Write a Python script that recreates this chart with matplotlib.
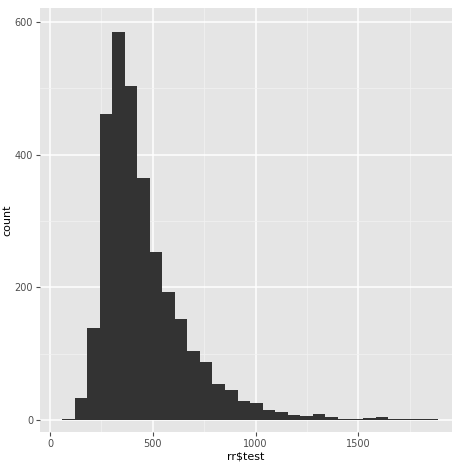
import matplotlib
matplotlib.use('Agg')
import matplotlib.pyplot as plt
import numpy as np

# histogram of rr$test, 30 bins
bin_left = 58
bin_width = 61
counts = [1, 33, 138, 462, 585, 503, 365, 254, 193, 152, 104, 88, 55, 45, 28,
          25, 15, 12, 8, 6, 9, 5, 2, 2, 3, 5, 1, 2, 1, 2]

edges = bin_left + bin_width * np.arange(len(counts))

fig = plt.figure(figsize=(4.74, 4.74), dpi=100)
ax = fig.add_axes([40 / 474, 42 / 474, 412 / 474, 424 / 474])
ax.set_facecolor('#e5e5e5')
ax.bar(edges, counts, width=bin_width, align='edge', color='#333333', zorder=3)

ax.set_xlim(-49, 1955)
ax.set_ylim(-18, 621)
ax.set_xticks([0, 500, 1000, 1500])
ax.set_yticks([0, 200, 400, 600])
ax.set_xticks([250, 750, 1250, 1750], minor=True)
ax.set_yticks([100, 300, 500], minor=True)
ax.grid(which='major', color='white', linewidth=1.1, zorder=0)
ax.grid(which='minor', color='#f2f2f2', linewidth=0.5, zorder=0)
ax.set_axisbelow(True)
for s in ax.spines.values():
    s.set_visible(False)
ax.tick_params(which='major', colors='#4d4d4d', labelsize=7, length=3, pad=2)
ax.tick_params(which='minor', length=0)
ax.set_xlabel('rr$test', fontsize=8, labelpad=2)
ax.set_ylabel('count', fontsize=8, labelpad=2)
ax.yaxis.set_label_coords(-28 / 412, 0.5)
fig.savefig('out.png', dpi=100)
